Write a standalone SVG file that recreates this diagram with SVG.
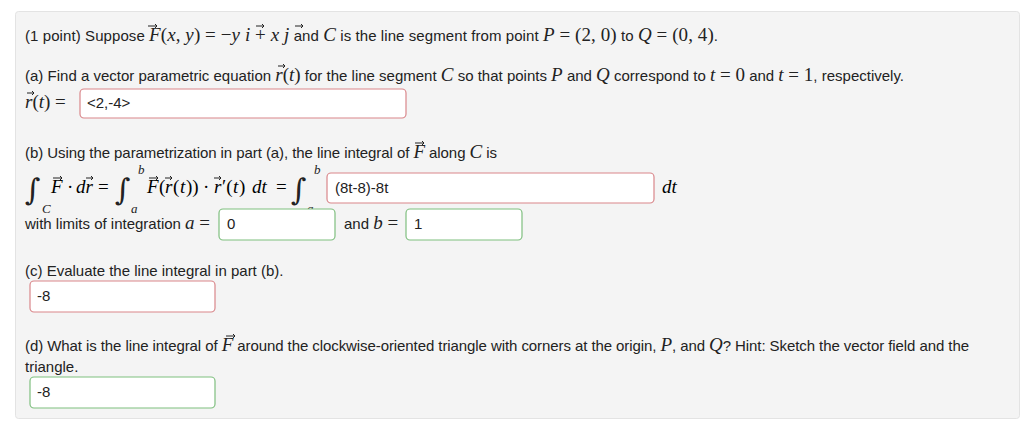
<svg xmlns="http://www.w3.org/2000/svg" width="1024" height="431" viewBox="0 0 1024 431">
<style>
.t{font-family:"Liberation Sans",Arial,sans-serif;font-size:15px;fill:#222}
.m{font-family:"Liberation Serif","Times New Roman",serif;font-size:19px;font-style:italic}
.n{font-family:"Liberation Serif","Times New Roman",serif;font-size:19px;font-style:normal}
.i{font-family:"DejaVu Serif",serif;font-size:30px;fill:#222}
.s{font-family:"Liberation Serif","Times New Roman",serif;font-size:13px;font-style:italic;fill:#222}
.box{fill:#fff;stroke-width:1.2}
.bad{stroke:#d9868a}
.ok{stroke:#7fbf7f}
.ar{stroke:#222;stroke-width:1;fill:none}
</style>
<rect x="15.500" y="11.500" width="1004" height="407" rx="3" fill="#f4f4f4" stroke="#e3e3e3"/>
<g id="q1">
<text class="t" x="25" y="41" textLength="693" lengthAdjust="spacing">(1 point) Suppose <tspan class="m">F</tspan><tspan class="n">(</tspan><tspan class="m">x</tspan><tspan class="n">, </tspan><tspan class="m">y</tspan><tspan class="n">) = −</tspan><tspan class="m">y i</tspan><tspan class="n"> + </tspan><tspan class="m">x j</tspan> and <tspan class="m">C</tspan> is the line segment from point <tspan class="m">P</tspan><tspan class="n"> = (2, 0)</tspan> to <tspan class="m">Q</tspan><tspan class="n"> = (0, 4)</tspan>.</text>
</g>
<g id="qa">
<text class="t" x="25" y="81" textLength="879" lengthAdjust="spacing">(a) Find a vector parametric equation <tspan class="m">r</tspan><tspan class="n">(</tspan><tspan class="m">t</tspan><tspan class="n">)</tspan> for the line segment <tspan class="m">C</tspan> so that points <tspan class="m">P</tspan> and <tspan class="m">Q</tspan> correspond to <tspan class="m">t</tspan><tspan class="n"> = 0</tspan> and <tspan class="m">t</tspan><tspan class="n"> = 1</tspan>, respectively.</text>
<text class="t" x="25" y="108"><tspan class="m">r</tspan><tspan class="n">(</tspan><tspan class="m">t</tspan><tspan class="n">) =</tspan></text>
<rect class="box bad" x="80" y="89" width="326" height="29" rx="4"/>
<text class="t" x="87" y="108">&lt;2,-4&gt;</text>
</g>
<g id="qb">
<text class="t" x="25" y="158" textLength="472" lengthAdjust="spacing">(b) Using the parametrization in part (a), the line integral of <tspan class="m">F</tspan> along <tspan class="m">C</tspan> is</text>
<text class="i" x="25" y="200">∫</text>
<text class="s" x="42" y="213">C</text>
<text class="m" x="51" y="193">F</text>
<text class="n" x="67" y="193">·</text>
<text class="m" x="76" y="193">dr</text>
<text class="n" x="98" y="193">=</text>
<text class="i" x="115" y="200">∫</text>
<text class="s" x="138" y="174">b</text>
<text class="s" x="131" y="213">a</text>
<text class="m" x="147" y="193">F</text>
<text class="n" x="159" y="193">(</text>
<text class="m" x="165" y="193">r</text>
<text class="n" x="173" y="193">(</text>
<text class="m" x="180" y="193">t</text>
<text class="n" x="186" y="193">))</text>
<text class="n" x="203" y="193">·</text>
<text class="m" x="214" y="193">r</text>
<text class="n" x="222" y="193">′(</text>
<text class="m" x="233" y="193">t</text>
<text class="n" x="239" y="193">)</text>
<text class="m" x="252" y="193">dt</text>
<text class="n" x="276" y="193">=</text>
<text class="i" x="291" y="200">∫</text>
<text class="s" x="314" y="174">b</text>
<text class="s" x="307" y="213">a</text>
<rect class="box bad" x="327" y="173" width="327" height="30" rx="4"/>
<text class="t" x="335" y="193">(8t-8)-8t</text>
<text class="m" x="662" y="193">dt</text>
<text class="t" x="25" y="229">with limits of integration <tspan class="m">a</tspan><tspan class="n"> =</tspan></text>
<rect class="box ok" x="219" y="209" width="116" height="31" rx="4"/>
<text class="t" x="227" y="229">0</text>
<text class="t" x="344" y="229">and <tspan class="m">b</tspan><tspan class="n"> =</tspan></text>
<rect class="box ok" x="406" y="209" width="116" height="31" rx="4"/>
<text class="t" x="414" y="229">1</text>
</g>
<g id="qc">
<text class="t" x="25" y="276">(c) Evaluate the line integral in part (b).</text>
<rect class="box bad" x="30" y="281" width="185" height="31" rx="4"/>
<text class="t" x="37" y="301">-8</text>
</g>
<g id="qd">
<text class="t" x="25" y="351" textLength="944" lengthAdjust="spacing">(d) What is the line integral of <tspan class="m">F</tspan> around the clockwise-oriented triangle with corners at the origin, <tspan class="m">P</tspan>, and <tspan class="m">Q</tspan>? Hint: Sketch the vector field and the</text>
<text class="t" x="25" y="372">triangle.</text>
<rect class="box ok" x="30" y="377" width="185" height="31" rx="4"/>
<text class="t" x="37" y="397">-8</text>
</g>
<path class="ar" d="M148 26h9m-2-2l2 2l-2 2M256 26h8m-2-2l2 2l-2 2M295 26h8m-2-2l2 2l-2 2M278 66h7m-2-2l2 2l-2 2M27 93h7m-2-2l2 2l-2 2M415 143h9m-2-2l2 2l-2 2M53 178h9m-2-2l2 2l-2 2M86 178h7m-2-2l2 2l-2 2M149 178h9m-2-2l2 2l-2 2M165 178h7m-2-2l2 2l-2 2M214 178h7m-2-2l2 2l-2 2M226 336h9m-2-2l2 2l-2 2"/>
</svg>
